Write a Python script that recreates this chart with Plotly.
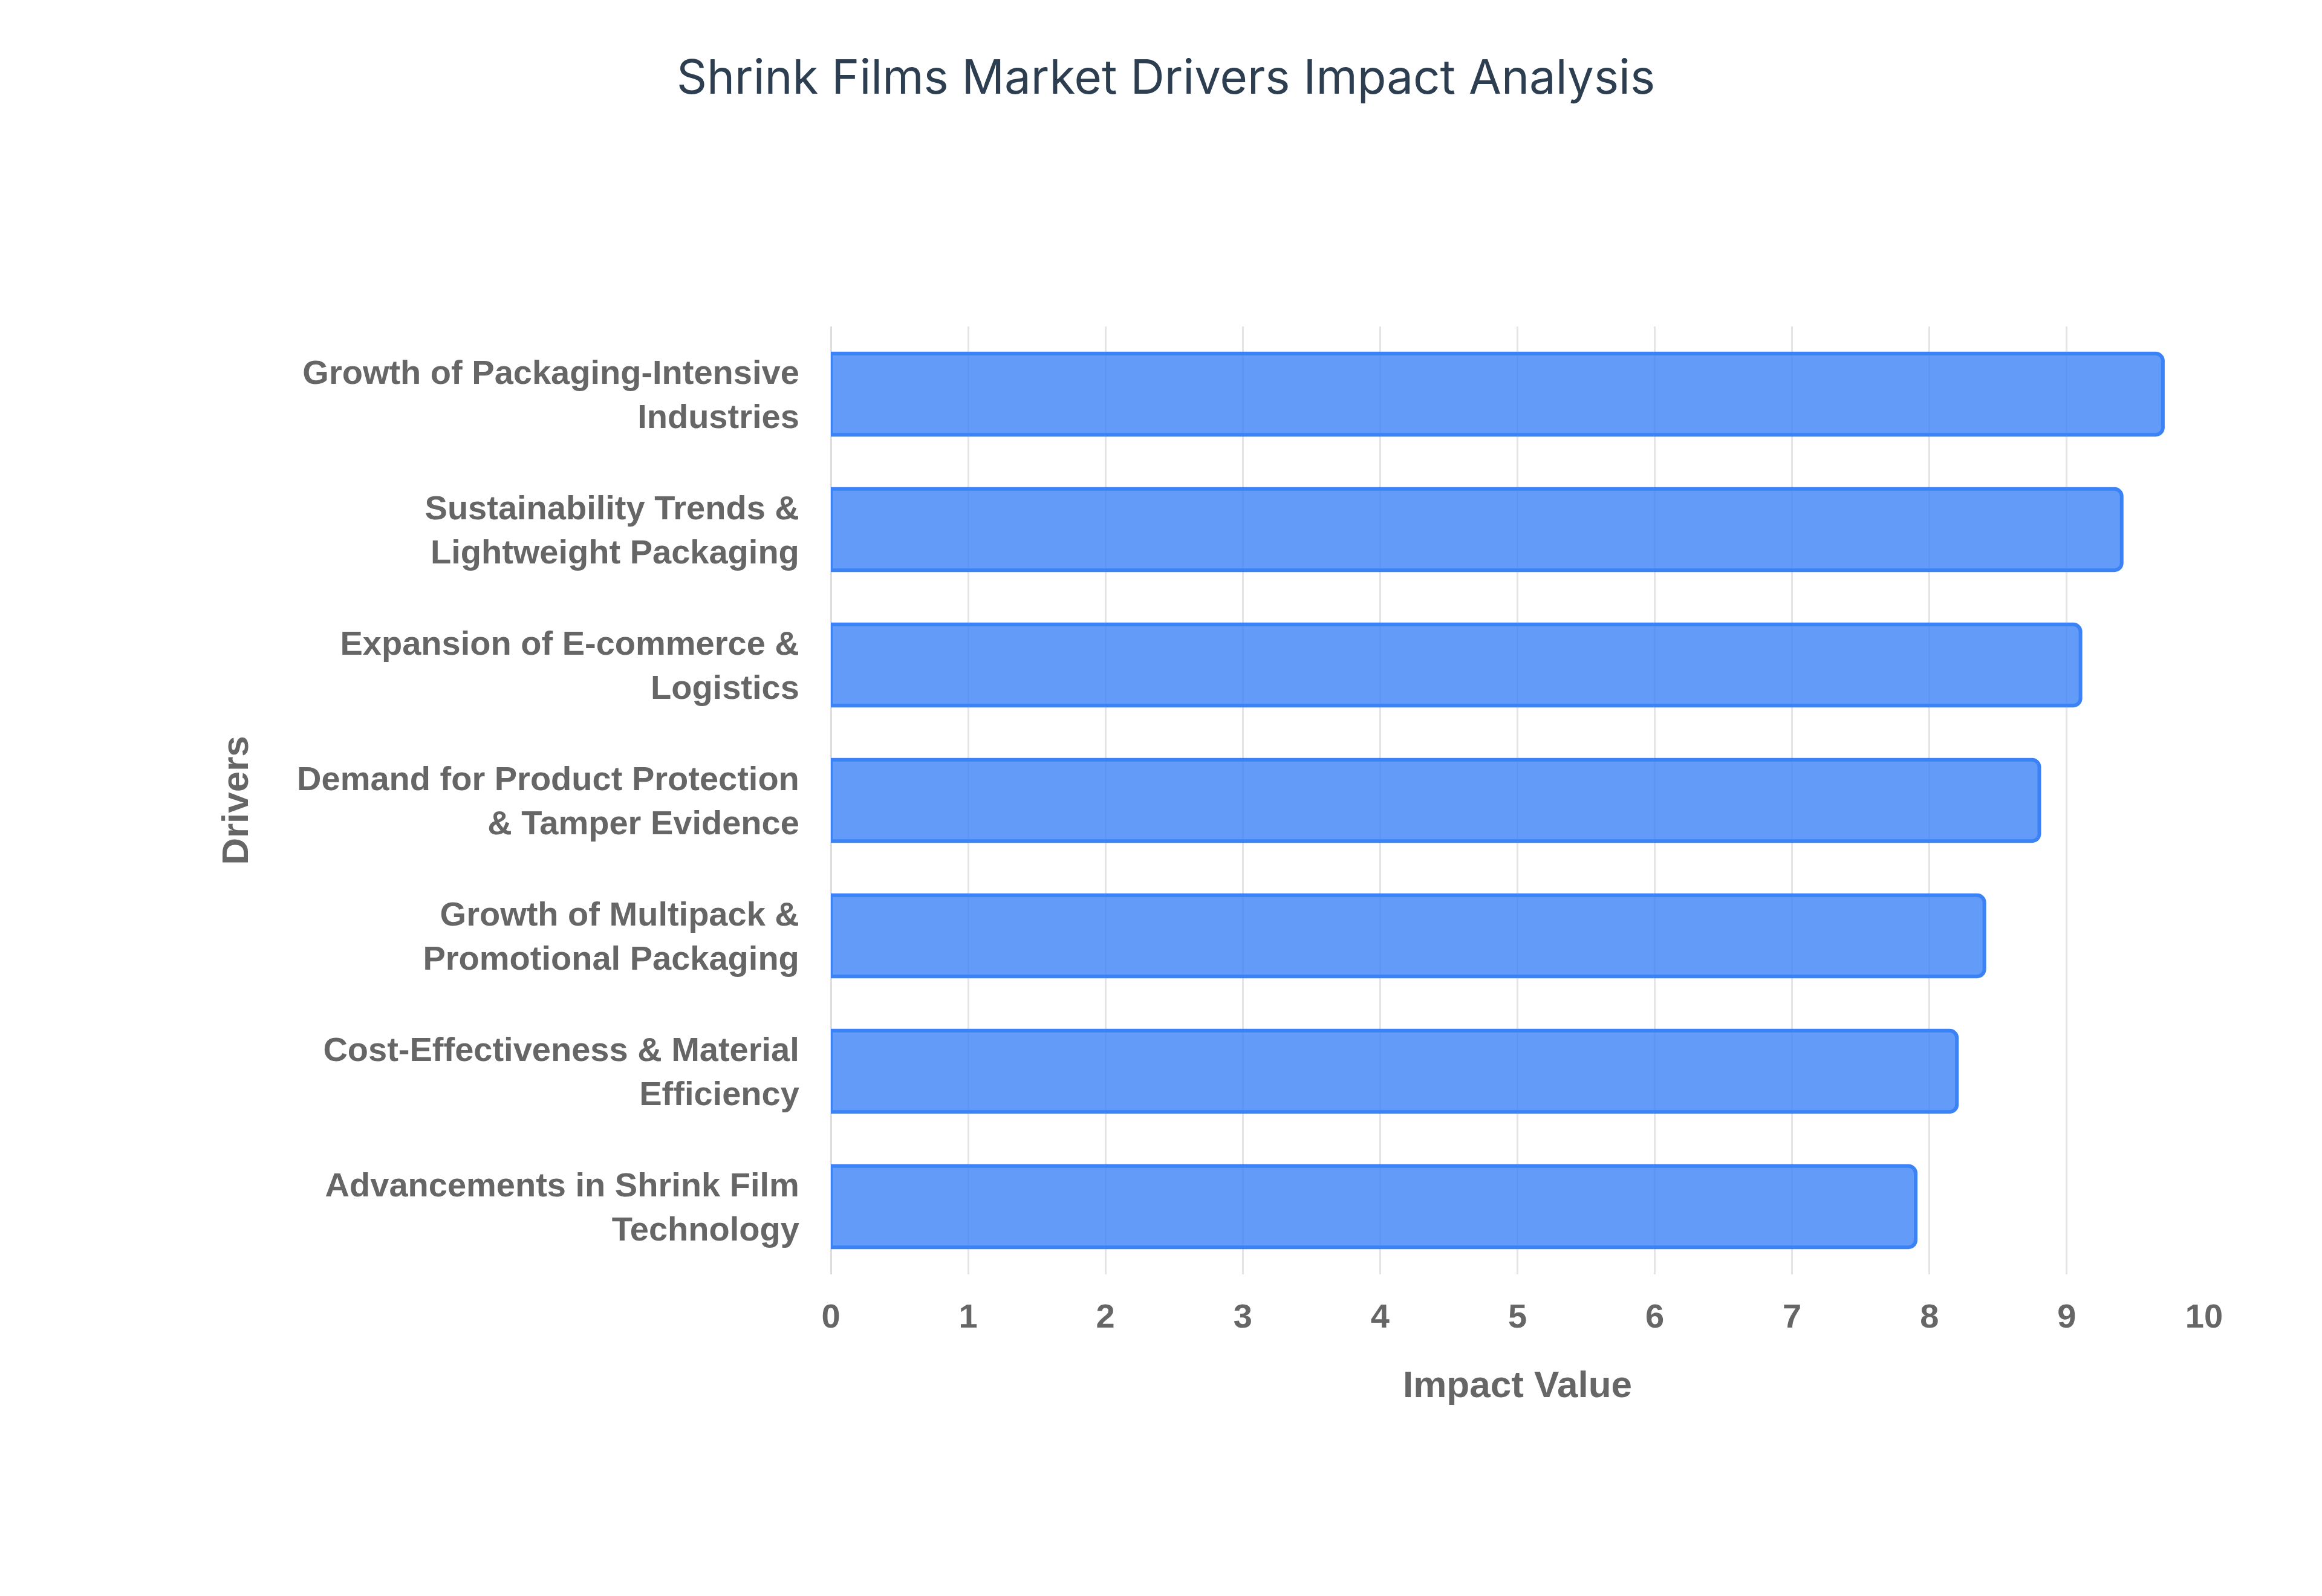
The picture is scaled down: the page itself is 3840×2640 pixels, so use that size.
import plotly.graph_objects as go

drivers = [
    "Growth of Packaging-Intensive<br>Industries",
    "Sustainability Trends &<br>Lightweight Packaging",
    "Expansion of E-commerce &<br>Logistics",
    "Demand for Product Protection<br>& Tamper Evidence",
    "Growth of Multipack &<br>Promotional Packaging",
    "Cost-Effectiveness & Material<br>Efficiency",
    "Advancements in Shrink Film<br>Technology",
]
impact = [9.7, 9.4, 9.1, 8.8, 8.4, 8.2, 7.9]

fig = go.Figure(go.Bar(
    x=impact, y=drivers, orientation="h", width=0.6,
    marker=dict(color="rgba(59,130,246,0.8)", line=dict(color="#3b82f6", width=6), cornerradius=12),
))
fig.update_layout(
    width=3840, height=2640,
    margin=dict(l=1366, r=203, t=532, b=540),
    paper_bgcolor="white", plot_bgcolor="white",
    title=dict(text="Shrink Films Market Drivers Impact Analysis", x=0.5, y=0.965, xanchor="center",
               font=dict(family="Inter", size=78, color="#2c3e50")),
    showlegend=False,
    font=dict(family="Liberation Sans"),
)
fig.update_xaxes(range=[0, 10], dtick=1, showgrid=True, gridcolor="#e5e5e5", gridwidth=3,
                 zeroline=True, zerolinecolor="#dddddd", zerolinewidth=3,
                 ticks="outside", ticklen=20, tickcolor="white",
                 tickfont=dict(size=56, color="#666666", family="Liberation Sans", weight="bold"),
                 title=dict(text="Impact Value", standoff=60,
                            font=dict(size=62, color="#666666", family="Liberation Sans", weight="bold")))
fig.update_yaxes(autorange="reversed", showgrid=False, ticks="outside", ticklen=40, tickcolor="white",
                 tickfont=dict(size=56, color="#666666", family="Liberation Sans", weight="bold"),
                 title=dict(text="Drivers", standoff=60,
                            font=dict(size=62, color="#666666", family="Liberation Sans", weight="bold")))
fig.write_html("out.html")
